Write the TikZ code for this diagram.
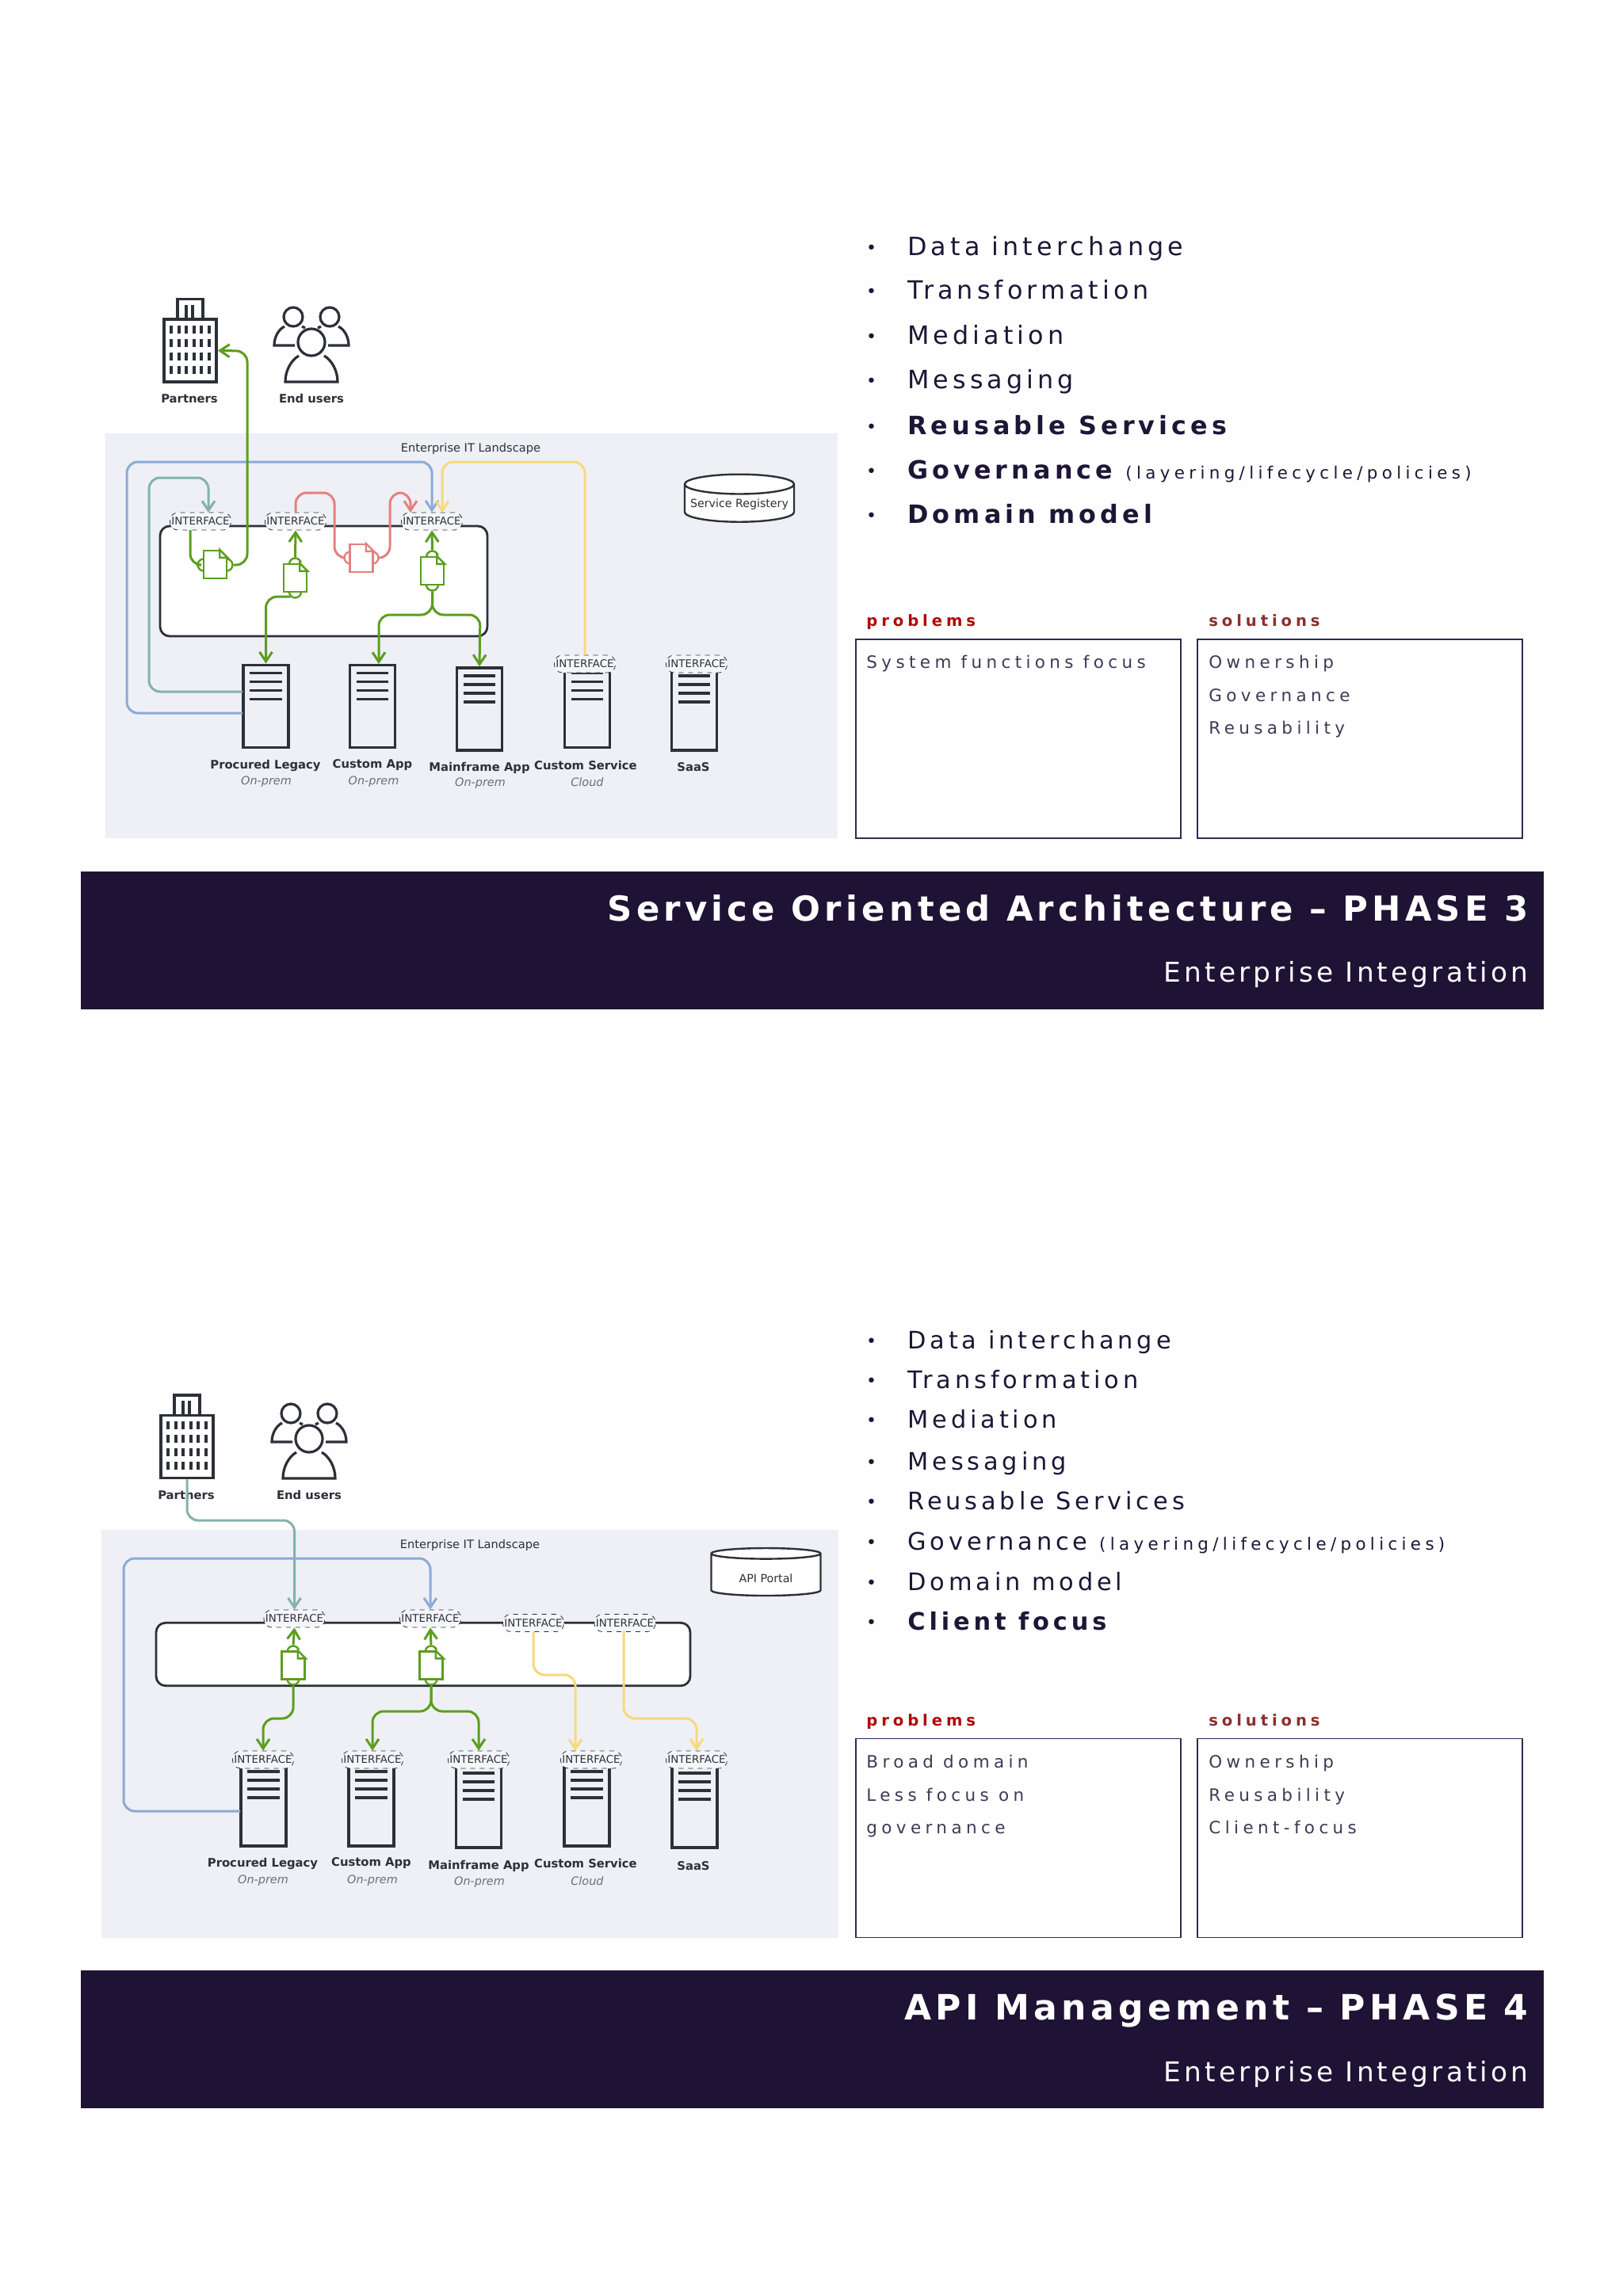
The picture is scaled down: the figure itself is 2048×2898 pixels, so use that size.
\documentclass[tikz,border=0pt]{standalone}
\usepackage{fontspec}
\setmainfont{DejaVu Sans}
\newfontfamily\spaced[LetterSpace=16]{DejaVu Sans}
\newfontfamily\widespaced[LetterSpace=25]{DejaVu Sans}
\newfontfamily\bandfont[LetterSpace=12]{DejaVu Sans}
\usetikzlibrary{shapes,arrows.meta,calc}
\definecolor{panelgray}{HTML}{EEF0F5}
\definecolor{banner}{HTML}{1E1334}
\definecolor{ink}{HTML}{1D1636}
\definecolor{frameink}{HTML}{2E2B52}
\definecolor{iconink}{HTML}{2C3038}
\definecolor{cgreen}{HTML}{5B9E1F}
\definecolor{cteal}{HTML}{85B2A9}
\definecolor{cblue}{HTML}{8AABD6}
\definecolor{cred}{HTML}{E58080}
\definecolor{cyellow}{HTML}{F5DA7C}
\definecolor{probred}{HTML}{B00808}
\definecolor{solred}{HTML}{8C2E2E}
\tikzstyle{panel} = [fill=panelgray, inner sep=0pt]
\tikzstyle{core} = [draw=iconink, fill=white, line width=1.4pt, rounded corners=6pt, inner sep=0pt]
\tikzstyle{iface} = [draw=iconink, dashed, thin, fill=panelgray!60!white, rounded corners=5pt, minimum width=38.5pt,
    minimum height=11pt, inner sep=0pt, text=iconink, font=\fontsize{6.7}{8}\selectfont]
\tikzstyle{server} = [draw=iconink, fill=panelgray, line width=1.9pt, minimum width=28.5pt, minimum height=52pt, inner sep=0pt]
\tikzstyle{bar} = [draw=iconink, line width=1.7pt]
\tikzstyle{capt} = [text=iconink, font=\fontsize{7.4}{9}\selectfont\bfseries, inner sep=0pt]
\tikzstyle{subcapt} = [text=iconink!70, font=\fontsize{7.2}{9}\selectfont\itshape, inner sep=0pt]
\tikzstyle{plain} = [text=iconink, font=\fontsize{7.3}{9}\selectfont, inner sep=0pt]
\tikzstyle{store} = [cylinder, shape border rotate=90, shape aspect=0.2, draw=iconink, line width=1.2pt,
    fill=white, minimum width=69pt, minimum height=30pt, inner sep=0pt, text=iconink, font=\fontsize{7.1}{9}\selectfont]
\tikzstyle{wire} = [line width=1.5pt, rounded corners=7pt, >={Straight Barb[length=6pt,width=8pt]}]
\tikzstyle{greenwire} = [wire, draw=cgreen]
\tikzstyle{tealwire} = [wire, draw=cteal]
\tikzstyle{bluewire} = [wire, draw=cblue]
\tikzstyle{redwire} = [wire, draw=cred]
\tikzstyle{yellowwire} = [wire, draw=cyellow]
\tikzstyle{plug} = [circle, draw, fill=white, line width=1.2pt, minimum size=7.5pt, inner sep=0pt]
\tikzstyle{docbox} = [draw, fill=white, line width=1.2pt, minimum width=14.5pt, minimum height=17.5pt, inner sep=0pt]
\tikzstyle{item} = [anchor=base west, text=ink, inner sep=0pt, font=\fontsize{15.9}{18}\spaced]
\tikzstyle{itemb} = [item, font=\fontsize{15.9}{18}\spaced\bfseries]
\tikzstyle{itemc} = [item, font=\fontsize{15.2}{18}\spaced]
\tikzstyle{itemd} = [item, font=\fontsize{15.2}{18}\spaced\bfseries]
\tikzstyle{boxtext} = [anchor=base west, text=ink!85, inner sep=0pt, font=\fontsize{10.75}{12}\widespaced]
\tikzstyle{probhead} = [anchor=base west, inner sep=0pt, text=probred, font=\fontsize{9.8}{12}\widespaced\bfseries]
\tikzstyle{solhead} = [probhead, text=solred]
\tikzstyle{infobox} = [draw=frameink, line width=0.9pt, fill=white, minimum width=205pt, minimum height=125.5pt, inner sep=0pt]
\tikzstyle{bandbox} = [fill=banner, minimum width=923pt, minimum height=87pt, inner sep=0pt]
\tikzstyle{title} = [anchor=base east, text=white, inner sep=0pt, font=\fontsize{21.7}{26}\bandfont\bfseries]
\tikzstyle{titleb} = [title, font=\fontsize{22.05}{26}\bandfont\bfseries]
\tikzstyle{subtitle} = [anchor=base east, text=white, inner sep=0pt, font=\fontsize{17.2}{20}\bandfont]
\newcommand{\itm}[1]{\makebox[25.5pt][l]{\kern-0.6pt\raisebox{0.8pt}{\fontsize{11}{12}\selectfont\mdseries •}}#1}
\newcommand{\aside}[1]{{\fontsize{10.7}{12}\widespaced\mdseries #1}}
% four bars near the top of a server
\newcommand{\serverbars}[1]{
    \draw [bar] ($(#1.north west)+(10,12)$) -- ($(#1.north east)+(-10,12)$);
    \draw [bar] ($(#1.north west)+(10,23)$) -- ($(#1.north east)+(-10,23)$);
    \draw [bar] ($(#1.north west)+(10,34)$) -- ($(#1.north east)+(-10,34)$);
    \draw [bar] ($(#1.north west)+(10,45)$) -- ($(#1.north east)+(-10,45)$);
}
% document with a folded corner: name, x, y, colour
\newcommand{\docicon}[4]{
    \node [docbox, draw=#4] (#1) at (#2,#3) {};
    \fill [white] ($(#1.north east)+(-10,-1)$) -- ($(#1.north east)+(1,-1)$) -- ($(#1.north east)+(1,10)$) -- cycle;
    \draw [#4, line width=1.2pt] ($(#1.north east)+(-10,0)$) -- ($(#1.north east)+(0,10)$)
        -- ($(#1.north east)+(-10,10)$) -- cycle;
}
\newcommand{\buildingicon}[3]{
    \node [draw=iconink, fill=white, line width=1.9pt, minimum width=33pt, minimum height=39.5pt, inner sep=0pt] (#1) at (#2,#3) {};
    \draw [iconink, line width=1.9pt] (#2-16,#3-39.5) -- (#2-16,#3-65) -- (#2+16,#3-65) -- (#2+16,#3-39.5);
    \draw [iconink, line width=1.6pt] (#2-5,#3-58) -- (#2-5,#3-41) (#2+3,#3-58) -- (#2+3,#3-41);
    \draw [iconink, line width=2pt, dash pattern=on 5pt off 3.5pt]
        (#2-24,#3-32) -- (#2-24,#3+30) (#2-14.5,#3-32) -- (#2-14.5,#3+30) (#2-5,#3-32) -- (#2-5,#3+30)
        (#2+4.5,#3-32) -- (#2+4.5,#3+30) (#2+14,#3-32) -- (#2+14,#3+30) (#2+23.5,#3-32) -- (#2+23.5,#3+30);
}
\newcommand{\peopleicon}[2]{
    \draw [iconink, line width=1.6pt] (#1-23,#2-40) circle (6pt) (#1+23,#2-40) circle (6pt);
    \draw [iconink, line width=1.6pt] (#1-34,#2-28) .. controls (#1-42,#2-24) and (#1-47,#2-14) .. (#1-47,#2-4) -- (#1-21,#2-4);
    \draw [iconink, line width=1.6pt] (#1+34,#2-28) .. controls (#1+42,#2-24) and (#1+47,#2-14) .. (#1+47,#2-4) -- (#1+21,#2-4);
    \draw [iconink, line width=1.6pt] (#1-12,#2-28) -- (#1-8,#2-26) (#1+12,#2-28) -- (#1+8,#2-26);
    \draw [iconink, line width=1.6pt] (#1,#2-8) circle (8.5pt);
    \draw [iconink, line width=1.6pt] (#1-16,#2+9) .. controls (#1-26,#2+15) and (#1-33,#2+28) .. (#1-33,#2+42)
        -- (#1+33,#2+42) .. controls (#1+33,#2+28) and (#1+26,#2+15) .. (#1+16,#2+9);
}

\begin{document}
\begin{tikzpicture}[x=0.5pt, y=-0.5pt]
    \useasboundingbox [fill=white!99.5!gray] (0,0) rectangle (2048,2898);

    % ---- upper page: phase 3 ----
    \node [panel, minimum width=462pt, minimum height=255.5pt] (landA) at (594.5,802.5) {};
    \node [plain] (landAtext) at (594,566) {Enterprise IT Landscape};
    \buildingicon{partA}{240}{442.5}
    \peopleicon{393}{440}
    \node [capt] (partAtext) at (239,503) {Partners};
    \node [capt] (usersAtext) at (393,503) {End users};
    \node [store] (registry) at (933,635.5) {\raisebox{-6pt}{Service Registery}};

    \node [core, minimum width=206.5pt, minimum height=69.5pt] (coreA) at (408.5,733.5) {};
    % the servers
    \node [server] (srvA) at (335.5,891.5) {};
    \node [server] (srvB) at (470,891.5) {};
    \node [server] (srvC) at (605,895) {};
    \node [server] (srvD) at (741,891.5) {};
    \node [server] (srvE) at (876,895) {};
    \serverbars{srvA}
    \serverbars{srvB}
    \serverbars{srvC}
    \serverbars{srvD}
    \serverbars{srvE}
    \node [capt] (srvAtext) at (335,966) {Procured Legacy};
    \node [capt] (srvBtext) at (470,966) {Custom App};
    \node [capt] (srvCtext) at (605,969) {Mainframe App};
    \node [capt] (srvDtext) at (739,966) {Custom Service};
    \node [capt] (srvEtext) at (875,968) {SaaS};
    \node [subcapt] (srvAsub) at (336,987) {On-prem};
    \node [subcapt] (srvBsub) at (471.5,987) {On-prem};
    \node [subcapt] (srvCsub) at (606,989) {On-prem};
    \node [subcapt] (srvDsub) at (741,987) {Cloud};

    % the interfaces
    \node [iface] (ifA) at (253,658) {INTERFACE};
    \node [iface] (ifB) at (373,658) {INTERFACE};
    \node [iface] (ifC) at (545,658) {INTERFACE};
    \node [iface] (ifD) at (738,838) {INTERFACE};
    \node [iface] (ifE) at (879,838) {INTERFACE};
    \coordinate (ifAteal) at (263,647);
    \coordinate (ifAgreen) at (240,669);
    \coordinate (ifCred) at (518,647);
    \coordinate (ifCyellow) at (558,647);
    \coordinate (srvAteal) at (306,873);
    \coordinate (srvAblue) at (306,900);
    \coordinate (srvBin) at (478,838);

    % the plugs, then the documents on top of them
    \node [plug, draw=cgreen] (plugAl) at (257,713) {};
    \node [plug, draw=cgreen] (plugAr) at (286,713) {};
    \node [plug, draw=cgreen] (plugBt) at (372.5,712) {};
    \node [plug, draw=cgreen] (plugBb) at (372.5,747) {};
    \node [plug, draw=cred] (plugCl) at (442,704) {};
    \node [plug, draw=cred] (plugCr) at (470,704) {};
    \node [plug, draw=cgreen] (plugDt) at (545.5,703) {};
    \node [plug, draw=cgreen] (plugDb) at (545.5,738) {};
    \docicon{docA}{271.5}{712.5}{cgreen}
    \docicon{docB}{372.5}{729.5}{cgreen}
    \docicon{docC}{456}{704.5}{cred}
    \docicon{docD}{545.5}{720.5}{cgreen}

    % the connectors
    \draw [bluewire, ->] (srvAblue) -| (160,583) -| (ifC.north);
    \draw [tealwire, ->] (srvAteal) -| (188,603) -| (ifAteal);
    \draw [yellowwire, ->] (ifD.north) |- (558,583) -- (ifCyellow);
    \draw [redwire] (ifB.north) |- (422,622) |- (plugCl.west);
    \draw [redwire, ->] (plugCr.east) -| (492,622) -| (ifCred);
    \draw [greenwire] (ifAgreen) |- (plugAl.west);
    \draw [greenwire, ->] (plugAr.east) -| (312,443) -- (partA.east);
    \draw [greenwire, ->] (plugBt.north) -- (ifB.south);
    \draw [greenwire, ->] (plugBb.south west) -| (srvA.north);
    \draw [greenwire, ->] (plugDt.north) -- (ifC.south);
    \draw [greenwire, ->] (plugDb.south) |- (478,776) -- (srvBin);
    \draw [greenwire, ->] (plugDb.south) |- (606,776) -- (srvC.north);

    % the text column
    \node [item] (itemAa) at (1094,322) {\itm{Data interchange}};
    \node [item] (itemAb) at (1094,377) {\itm{Transformation}};
    \node [item] (itemAc) at (1094,434) {\itm{Mediation}};
    \node [item] (itemAd) at (1094,490) {\itm{Messaging}};
    \node [itemb] (itemAe) at (1094,548) {\itm{Reusable Services}};
    \node [itemb] (itemAf) at (1094,604) {\itm{Governance} \aside{(layering/lifecycle/policies)}};
    \node [itemb] (itemAg) at (1094,660) {\itm{Domain model}};
    \node [probhead] (probAhead) at (1093,790) {problems};
    \node [solhead] (solAhead) at (1525,790) {solutions};
    \node [infobox] (probA) at (1284.8,932.5) {};
    \node [infobox] (solA) at (1716,932.5) {};
    \node [boxtext] (probAa) at (1093,843) {System functions focus};
    \node [boxtext] (solAa) at (1525,843) {Ownership};
    \node [boxtext] (solAb) at (1525,885) {Governance};
    \node [boxtext] (solAc) at (1525,926) {Reusability};
    \node [bandbox] (bandA) at (1025,1187) {};
    \node [title] (bandAtitle) at (1929,1162) {Service Oriented Architecture – PHASE 3};
    \node [subtitle] (bandAsub) at (1929,1239) {Enterprise Integration};

    % ---- lower page: phase 4 ----
    \node [panel, minimum width=465pt, minimum height=257.5pt] (landB) at (593,2188.5) {};
    \node [plain] (landBtext) at (593,1950) {Enterprise IT Landscape};
    \buildingicon{partB}{236}{1826}
    \peopleicon{390}{1824}
    \node [capt] (partBtext) at (235,1887) {Partners};
    \node [capt] (usersBtext) at (390,1887) {End users};
    \node [store] (portal) at (966.5,1988) {\raisebox{-10pt}{API Portal}};

    \node [core, minimum width=337pt, minimum height=39.75pt] (coreB) at (534,2088) {};
    \node [server] (srvF) at (332.5,2278) {};
    \node [server] (srvG) at (468.5,2278) {};
    \node [server] (srvH) at (604,2280) {};
    \node [server] (srvI) at (740.5,2278) {};
    \node [server] (srvJ) at (876.5,2280) {};
    \serverbars{srvF}
    \serverbars{srvG}
    \serverbars{srvH}
    \serverbars{srvI}
    \serverbars{srvJ}
    \node [capt] (srvFtext) at (331.5,2352) {Procured Legacy};
    \node [capt] (srvGtext) at (468.5,2352) {Custom App};
    \node [capt] (srvHtext) at (604,2355) {Mainframe App};
    \node [capt] (srvItext) at (739,2352) {Custom Service};
    \node [capt] (srvJtext) at (875,2355) {SaaS};
    \node [subcapt] (srvFsub) at (332,2374) {On-prem};
    \node [subcapt] (srvGsub) at (470,2374) {On-prem};
    \node [subcapt] (srvHsub) at (605,2376) {On-prem};
    \node [subcapt] (srvIsub) at (741,2374) {Cloud};

    \node [iface] (ifF) at (371.5,2043) {INTERFACE};
    \node [iface] (ifG) at (543,2043) {INTERFACE};
    \node [iface] (ifH) at (673,2048.5) {INTERFACE};
    \node [iface] (ifI) at (788.5,2048.5) {INTERFACE};
    \node [iface] (ifJ) at (332,2221) {INTERFACE};
    \node [iface] (ifK) at (470,2221) {INTERFACE};
    \node [iface] (ifL) at (604,2221) {INTERFACE};
    \node [iface] (ifM) at (746,2221) {INTERFACE};
    \node [iface] (ifN) at (879,2221) {INTERFACE};
    \coordinate (srvFblue) at (303,2286);
    \coordinate (ifMin) at (726,2210);
    \coordinate (ifIout) at (787,2059);

    \node [plug, draw=cgreen] (plugEt) at (370,2085) {};
    \node [plug, draw=cgreen] (plugEb) at (370,2119) {};
    \node [plug, draw=cgreen] (plugFt) at (544,2085) {};
    \node [plug, draw=cgreen] (plugFb) at (544,2119) {};
    \docicon{docE}{370}{2102}{cgreen}
    \docicon{docF}{544}{2102}{cgreen}

    \draw [tealwire, ->] (partB.south) |- (371.5,1919) -- (ifF.north);
    \draw [bluewire, ->] (srvFblue) -| (156,1967) -| (ifG.north);
    \draw [greenwire, ->] (plugEt.north) -- (ifF.south);
    \draw [greenwire, ->] (plugFt.north) -- (ifG.south);
    \draw [greenwire, ->] (plugEb.south) |- (332,2169) -- (ifJ.north);
    \draw [greenwire, ->] (plugFb.south) |- (470,2160) -- (ifK.north);
    \draw [greenwire, ->] (plugFb.south) |- (604,2160) -- (ifL.north);
    \draw [yellowwire, ->] (ifH.south) |- (726,2114) -- (ifMin);
    \draw [yellowwire, ->] (ifIout) |- (879,2169) -- (ifN.north);

    \node [itemc] (itemBa) at (1094,1702) {\itm{Data interchange}};
    \node [itemc] (itemBb) at (1094,1752) {\itm{Transformation}};
    \node [itemc] (itemBc) at (1094,1802) {\itm{Mediation}};
    \node [itemc] (itemBd) at (1094,1855) {\itm{Messaging}};
    \node [itemc] (itemBe) at (1094,1905) {\itm{Reusable Services}};
    \node [itemc] (itemBf) at (1094,1956) {\itm{Governance} \aside{(layering/lifecycle/policies)}};
    \node [itemc] (itemBg) at (1094,2007) {\itm{Domain model}};
    \node [itemd] (itemBh) at (1094,2057) {\itm{Client focus}};
    \node [probhead] (probBhead) at (1093,2178) {problems};
    \node [solhead] (solBhead) at (1525,2178) {solutions};
    \node [infobox] (probB) at (1284.8,2320) {};
    \node [infobox] (solB) at (1716,2320) {};
    \node [boxtext] (probBa) at (1093,2231) {Broad domain};
    \node [boxtext] (probBb) at (1093,2273) {Less focus on};
    \node [boxtext] (probBc) at (1093,2314) {governance};
    \node [boxtext] (solBa) at (1525,2231) {Ownership};
    \node [boxtext] (solBb) at (1525,2273) {Reusability};
    \node [boxtext] (solBc) at (1525,2314) {Client-focus};
    \node [bandbox] (bandB) at (1025,2574) {};
    \node [titleb] (bandBtitle) at (1929,2549) {API Management – PHASE 4};
    \node [subtitle] (bandBsub) at (1929,2627) {Enterprise Integration};
\end{tikzpicture}
\end{document}
